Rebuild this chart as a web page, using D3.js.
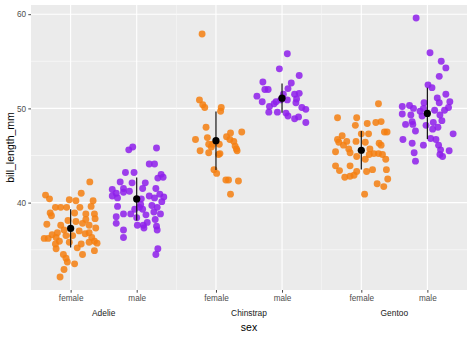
<!DOCTYPE html>
<html>
<head>
<meta charset="utf-8">
<script src="https://cdn.jsdelivr.net/npm/d3@7"></script>
<style>
    body { margin: 0; background: #fff; }
    svg { display: block; font-family: "Liberation Sans", Arial, Helvetica, sans-serif; }
</style>
</head>
<body>
<div id="chart"></div>
<script>
var species = ["Adelie", "Chinstrap", "Gentoo"];
var sexes = ["female", "male"];
var yTicks = [40, 50, 60];
var yMinor = [35, 45, 55];

// mean and sd of bill length, [female, male] per species
var groupMean = [[37.26, 40.39], [46.57, 51.09], [45.56, 49.47]];
var groupSd = [[2.03, 2.28], [3.11, 1.56], [2.05, 2.72]];

// bill lengths per group, with the horizontal jitter of each point (in category steps)
var adelieFemale = [42.2, 40.8, 40.4, 40.3, 40.2, 41.0, 40.2, 39.6, 39.5, 39.5, 39.5, 38.9, 38.6, 38.9, 39.5, 38.8, 38.8, 38.3, 38.2, 38.1,
    38.0, 37.7, 37.6, 37.8, 37.6, 37.3, 37.1, 37.0, 36.6, 36.2, 36.2, 36.3, 35.9, 36.5, 36.5, 36.7, 36.8, 36.3, 35.9, 35.7,
    35.6, 35.8, 35.2, 35.6, 35.1, 34.5, 34.1, 34.5, 33.7, 33.5, 32.9, 32.1, 34.9, 35.8, 36.8];
var adelieFemaleJit = [0.29, -0.38, -0.32, -0.02, 0.08, 0.16, 0.34, 0.31, -0.23, -0.15, -0.06, -0.31, -0.29, 0.06, 0.14, 0.23, 0.36, 0.37, 0.23, -0.04,
    0.08, -0.36, -0.15, 0.18, 0.28, 0.38, -0.10, 0.13, -0.28, -0.40, -0.34, -0.22, -0.17, -0.07, 0.03, 0.22, 0.28, 0.32, 0.36, 0.40,
    0.16, 0.28, 0.10, -0.23, -0.22, -0.11, -0.07, 0.18, -0.05, 0.06, -0.10, -0.16, 0.36, -0.02, -0.20];

var adelieMale = [45.6, 45.9, 45.8, 44.1, 44.1, 43.2, 43.2, 43.0, 42.7, 42.6, 42.2, 42.1, 42.1, 41.5, 41.4, 41.0, 40.7, 40.5, 41.1, 41.2,
    41.5, 41.5, 40.7, 40.5, 40.9, 40.6, 40.1, 39.5, 39.7, 39.8, 39.3, 39.3, 39.6, 38.8, 38.8, 38.5, 38.7, 39.0, 38.8, 38.4,
    38.2, 37.8, 37.6, 37.6, 37.9, 37.5, 37.1, 37.1, 37.3, 36.3, 35.1, 34.5, 39.5, 40.4];
var adelieMaleJit = [-0.12, -0.06, 0.30, 0.19, 0.27, -0.17, -0.04, 0.37, 0.40, 0.32, -0.25, -0.07, 0.13, -0.20, -0.37, -0.31, -0.37, -0.29, -0.20, -0.11,
    0.09, 0.29, 0.19, 0.27, 0.35, 0.41, 0.38, 0.31, 0.23, 0.06, 0.09, -0.03, -0.29, -0.20, -0.09, -0.31, 0.14, 0.26, 0.36, 0.00,
    0.28, -0.31, 0.01, 0.10, 0.16, 0.30, 0.31, -0.20, 0.11, -0.20, 0.32, 0.29, 0.04, 0.07];

var chinstrapFemale = [57.9, 50.9, 50.4, 50.1, 50.1, 49.7, 48.0, 47.4, 47.5, 46.7, 46.9, 47.0, 46.7, 46.2, 45.9, 46.2, 46.5, 46.0, 45.5, 45.5,
    45.3, 45.1, 45.2, 43.5, 43.1, 42.4, 42.4, 42.3, 40.9, 45.7, 46.2];
var chinstrapFemaleJit = [-0.21, -0.25, -0.20, -0.17, 0.08, 0.07, -0.15, 0.22, 0.39, -0.31, -0.13, 0.16, 0.21, -0.11, -0.07, 0.05, 0.27, 0.29, 0.32, -0.24,
    -0.11, 0.04, 0.06, -0.03, 0.01, 0.15, 0.19, 0.34, 0.22, 0.31, -0.05];

var chinstrapMale = [55.8, 54.2, 53.5, 52.8, 52.7, 52.0, 52.0, 52.1, 51.5, 51.6, 51.3, 50.7, 50.7, 50.9, 51.0, 50.5, 50.2, 50.6, 50.1, 49.9,
    49.6, 49.6, 49.5, 49.2, 48.9, 49.1, 48.5, 51.5, 50.9];
var chinstrapMaleJit = [0.08, -0.04, 0.26, -0.29, 0.14, -0.26, -0.21, 0.09, 0.19, 0.26, -0.38, -0.30, -0.09, 0.08, 0.22, -0.12, -0.19, 0.21, 0.30, 0.36,
    -0.20, -0.07, 0.06, 0.09, 0.19, 0.25, 0.36, 0.02, -0.02];

var gentooFemale = [50.5, 49.0, 49.0, 48.4, 48.5, 48.6, 48.2, 47.3, 47.3, 47.5, 47.5, 47.1, 46.7, 46.4, 46.5, 46.5, 46.4, 46.3, 46.1, 45.4,
    45.7, 45.3, 45.7, 45.2, 45.2, 45.1, 44.6, 44.9, 44.6, 43.9, 43.4, 43.9, 43.3, 43.3, 43.5, 43.5, 42.7, 42.8, 42.9, 42.5,
    42.0, 41.7, 40.9, 45.1, 46.1];
var gentooFemaleJit = [0.26, -0.36, -0.07, 0.09, 0.22, 0.30, -0.09, 0.00, 0.11, 0.35, 0.39, -0.29, -0.36, -0.34, -0.22, -0.08, 0.06, 0.27, 0.30, -0.39,
    -0.19, -0.17, 0.13, 0.19, 0.26, 0.32, 0.37, -0.07, 0.06, -0.39, -0.33, -0.17, -0.07, 0.08, 0.17, 0.38, -0.25, -0.17, -0.11, 0.40,
    0.24, 0.34, 0.05, 0.12, -0.27];

var gentooMale = [59.6, 55.9, 55.0, 54.3, 53.4, 52.5, 52.2, 51.5, 51.1, 50.6, 50.7, 50.6, 50.2, 50.3, 50.0, 49.7, 50.0, 49.8, 49.8, 50.1,
    49.4, 49.3, 49.2, 49.3, 48.3, 48.6, 48.5, 48.7, 48.3, 48.2, 47.8, 48.0, 47.6, 47.3, 46.7, 46.8, 46.7, 46.3, 46.1, 46.1,
    45.6, 45.5, 45.3, 44.4, 45.1, 44.9];
var gentooMaleJit = [-0.17, 0.04, 0.21, 0.28, 0.18, 0.01, 0.07, 0.28, 0.15, 0.18, 0.34, -0.05, -0.38, -0.27, -0.21, -0.11, -0.06, 0.11, 0.26, 0.32,
    -0.38, -0.25, -0.08, 0.19, -0.33, -0.23, 0.09, 0.22, -0.22, -0.02, 0.08, 0.16, -0.18, 0.39, -0.37, 0.05, 0.13, -0.23, -0.06, 0.17,
    0.20, 0.33, -0.20, -0.18, 0.19, 0.23];

var sexColor = { female: "#F57F10", male: "#8E1FEB" };

var svgWidth = 474;
var svgHeight = 338;
var panelLeft = 31, panelRight = 467, panelTop = 5, panelBottom = 290;

// flatten into one row per penguin
var groups = [
    [adelieFemale, adelieFemaleJit, "Adelie", "female"],
    [adelieMale, adelieMaleJit, "Adelie", "male"],
    [chinstrapFemale, chinstrapFemaleJit, "Chinstrap", "female"],
    [chinstrapMale, chinstrapMaleJit, "Chinstrap", "male"],
    [gentooFemale, gentooFemaleJit, "Gentoo", "female"],
    [gentooMale, gentooMaleJit, "Gentoo", "male"]
];
var penguins = [];
groups.forEach(function (g) {
    g[0].forEach(function (v, i) {
        penguins.push({ species: g[2], sex: g[3], bill: v, jit: g[1][i] });
    });
});

var summary = [];
species.forEach(function (s, i) {
    sexes.forEach(function (x, j) {
        summary.push({ species: s, sex: x, mean: groupMean[i][j], sd: groupSd[i][j] });
    });
});

var svg = d3.select("#chart").append("svg")
    .attr("width", svgWidth)
    .attr("height", svgHeight);

svg.append("rect")
    .attr("width", svgWidth)
    .attr("height", svgHeight)
    .attr("fill", "#fff");

// one panel per species, side by side with no gap
var speciesX = d3.scaleBand()
    .domain(species)
    .range([panelLeft, panelRight])
    .paddingInner(0)
    .paddingOuter(0);

var sexX = d3.scalePoint()
    .domain(sexes)
    .range([0, speciesX.bandwidth()])
    .padding(0.6);

var ext = d3.extent(penguins, function (d) { return d.bill; });
var pad = (ext[1] - ext[0]) * 0.05;
var y = d3.scaleLinear()
    .domain([ext[0] - pad, ext[1] + pad])
    .range([panelBottom, panelTop]);

var panels = svg.selectAll("g.panel")
    .data(species)
    .enter()
    .append("g")
    .attr("class", "panel")
    .attr("transform", function (d) { return "translate(" + speciesX(d) + ",0)"; });

panels.append("rect")
    .attr("x", 0)
    .attr("y", panelTop)
    .attr("width", speciesX.bandwidth())
    .attr("height", panelBottom - panelTop)
    .attr("fill", "#EBEBEB");

panels.selectAll("line.minor")
    .data(yMinor)
    .enter()
    .append("line")
    .attr("class", "minor")
    .attr("x1", 0)
    .attr("x2", speciesX.bandwidth())
    .attr("y1", function (d) { return y(d); })
    .attr("y2", function (d) { return y(d); })
    .attr("stroke", "#fff")
    .attr("stroke-width", 0.55);

panels.selectAll("line.major")
    .data(yTicks)
    .enter()
    .append("line")
    .attr("class", "major")
    .attr("x1", 0)
    .attr("x2", speciesX.bandwidth())
    .attr("y1", function (d) { return y(d); })
    .attr("y2", function (d) { return y(d); })
    .attr("stroke", "#fff")
    .attr("stroke-width", 1.1);

panels.selectAll("line.vmajor")
    .data(sexes)
    .enter()
    .append("line")
    .attr("class", "vmajor")
    .attr("x1", function (d) { return sexX(d); })
    .attr("x2", function (d) { return sexX(d); })
    .attr("y1", panelTop)
    .attr("y2", panelBottom)
    .attr("stroke", "#fff")
    .attr("stroke-width", 1.1);

// faint seam where two panels meet
svg.selectAll("line.seam")
    .data(species.slice(1))
    .enter()
    .append("line")
    .attr("class", "seam")
    .attr("x1", function (d) { return speciesX(d); })
    .attr("x2", function (d) { return speciesX(d); })
    .attr("y1", panelTop)
    .attr("y2", panelBottom)
    .attr("stroke", "#fff")
    .attr("stroke-opacity", 0.45)
    .attr("stroke-width", 0.6);

// jittered points
svg.append("g")
    .selectAll("circle")
    .data(penguins)
    .enter()
    .append("circle")
    .attr("cx", function (d) { return speciesX(d.species) + sexX(d.sex) + d.jit * sexX.step(); })
    .attr("cy", function (d) { return y(d.bill); })
    .attr("r", 3.45)
    .attr("fill", function (d) { return sexColor[d.sex]; })
    .attr("fill-opacity", 0.85);

// mean +/- sd
var sumG = svg.append("g");
sumG.selectAll("line")
    .data(summary)
    .enter()
    .append("line")
    .attr("x1", function (d) { return speciesX(d.species) + sexX(d.sex); })
    .attr("x2", function (d) { return speciesX(d.species) + sexX(d.sex); })
    .attr("y1", function (d) { return y(d.mean - d.sd); })
    .attr("y2", function (d) { return y(d.mean + d.sd); })
    .attr("stroke", "#111")
    .attr("stroke-width", 1.2);

sumG.selectAll("circle")
    .data(summary)
    .enter()
    .append("circle")
    .attr("cx", function (d) { return speciesX(d.species) + sexX(d.sex); })
    .attr("cy", function (d) { return y(d.mean); })
    .attr("r", 3.6)
    .attr("fill", "#000");

// axes
var xAxis = d3.axisBottom(sexX).tickSize(2.7).tickSizeOuter(0).tickPadding(2);
panels.append("g")
    .attr("transform", "translate(0," + panelBottom + ")")
    .each(function () { d3.select(this).call(xAxis); });

var yAxis = d3.axisLeft(y).tickValues(yTicks).tickSize(2.7).tickPadding(2.2);
svg.append("g")
    .attr("transform", "translate(" + panelLeft + ",0)")
    .call(yAxis);

svg.selectAll(".domain").remove();
svg.selectAll(".tick line").attr("stroke", "#333").attr("stroke-width", 0.9);
svg.selectAll(".tick text")
    .attr("fill", "#4D4D4D")
    .style("font-size", "8.2px")
    .style("font-family", "'Liberation Sans', Arial, Helvetica, sans-serif");

// strip labels under the axis
svg.selectAll("text.strip")
    .data(species)
    .enter()
    .append("text")
    .attr("class", "strip")
    .attr("x", function (d) { return speciesX(d) + speciesX.bandwidth() / 2; })
    .attr("y", 316)
    .attr("text-anchor", "middle")
    .attr("fill", "#1A1A1A")
    .style("font-size", "8.4px")
    .text(function (d) { return d; });

svg.append("text")
    .attr("x", (panelLeft + panelRight) / 2)
    .attr("y", 331)
    .attr("text-anchor", "middle")
    .attr("fill", "#000")
    .style("font-size", "10.5px")
    .text("sex");

svg.append("text")
    .attr("transform", "translate(13.5," + (panelTop + panelBottom) / 2 + ") rotate(-90)")
    .attr("text-anchor", "middle")
    .attr("fill", "#000")
    .style("font-size", "10.5px")
    .text("bill_length_mm");
</script>
</body>
</html>
